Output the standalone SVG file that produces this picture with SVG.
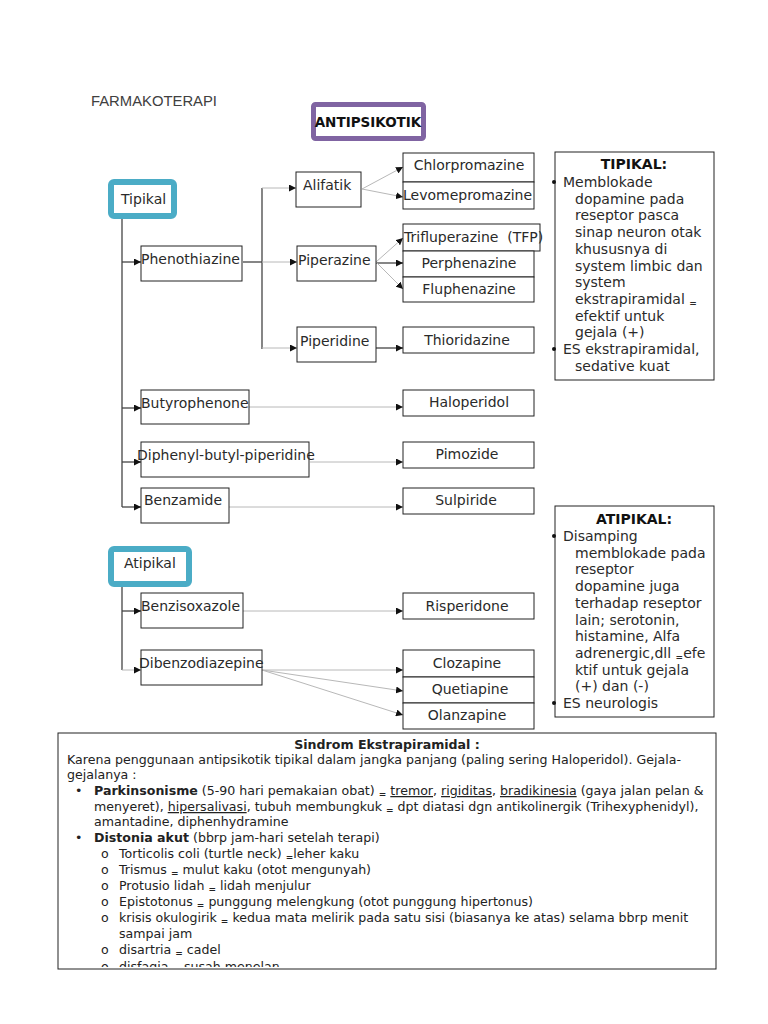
<svg xmlns="http://www.w3.org/2000/svg" width="768" height="1024" viewBox="0 0 768 1024">
<defs>
<marker id="ah" viewBox="0 0 8 8" refX="8" refY="4" markerWidth="7" markerHeight="7" markerUnits="userSpaceOnUse" orient="auto">
<path d="M0,0 L8,4 L0,8 z" fill="#111"/>
</marker>
<clipPath id="clipBottom"><rect x="58" y="733" width="658" height="234"/></clipPath>
</defs>
<style>
.t{font-family:"DejaVu Sans",sans-serif;font-size:14px;fill:#2a2a2a}
.tb{font-family:"DejaVu Sans",sans-serif;font-size:14px;font-weight:bold;fill:#111}
.c{text-anchor:middle}
.box{fill:#fff;stroke:#222;stroke-width:1}
.cat{fill:#fff;stroke:#4bacc6;stroke-width:6}
.dark{fill:none;stroke:#444;stroke-width:1.3}
.light{fill:none;stroke:#b8b8b8;stroke-width:1}
.arr{marker-end:url(#ah)}
.s{font-family:"DejaVu Sans",sans-serif;font-size:12.6px;fill:#222}
.sb{font-weight:bold}
.u{text-decoration:underline}
.eq{font-size:9px;font-weight:bold}
</style>
<rect width="768" height="1024" fill="#fff"/>
<text x="91" y="106" style="font-family:'Liberation Sans',Arial,sans-serif;font-size:14px;fill:#404040" textLength="126" lengthAdjust="spacingAndGlyphs">FARMAKOTERAPI</text>

<g id="connectors">
<path class="dark" d="M122,218 V507"/>
<path class="dark arr" d="M122,262 H141"/>
<path class="dark arr" d="M122,408 H141"/>
<path class="dark arr" d="M122,462 H141"/>
<path class="dark arr" d="M122,507 H141"/>
<path class="dark" d="M243,262 H262"/>
<path class="dark" d="M262,188 V349"/>
<path class="light arr" d="M262,188 H296"/>
<path class="light arr" d="M262,262 H297"/>
<path class="light arr" d="M262,348 H297"/>
<path class="light arr" d="M362,189 L403,167"/>
<path class="light arr" d="M362,189 L403,197"/>
<path class="light arr" d="M376,262 L403,238"/>
<path class="dark arr" d="M376,263 H403"/>
<path class="light arr" d="M376,262 L403,289"/>
<path class="dark arr" d="M376,348 H403"/>
<path class="light arr" d="M249,407 H403"/>
<path class="light arr" d="M310,462 H403"/>
<path class="light arr" d="M229,507 H403"/>
<path class="dark" d="M122,586 V670"/>
<path class="dark arr" d="M122,611 H141"/>
<path class="light arr" d="M122,670 H141"/>
<path class="light arr" d="M243,611 H403"/>
<path class="light arr" d="M262,670 H403"/>
<path class="light arr" d="M262,670 L403,691"/>
<path class="light arr" d="M262,670 L403,715"/>
</g>

<g id="antipsikotik">
<rect x="313.5" y="104.5" width="110" height="34" rx="2" fill="#fff" stroke="#8064a2" stroke-width="5"/>
<text class="tb" x="368" y="127" text-anchor="middle" style="font-size:13.5px">ANTIPSIKOTIK</text>
</g>

<g id="tipikal">
<rect class="cat" x="111" y="182" width="63" height="34" rx="3"/>
<text class="t" x="121" y="204">Tipikal</text>
</g>

<g id="phenothiazine"><rect class="box" x="141" y="246" width="101" height="35"/><text class="t" x="141" y="264">Phenothiazine</text></g>
<g id="alifatik"><rect class="box" x="296" y="172" width="65" height="35"/><text class="t" x="303" y="190">Alifatik</text></g>
<g id="piperazine"><rect class="box" x="297" y="246" width="79" height="35"/><text class="t" x="298" y="265">Piperazine</text></g>
<g id="piperidine"><rect class="box" x="297" y="327" width="79" height="35"/><text class="t" x="300" y="346">Piperidine</text></g>

<g id="chlorpromazine"><rect class="box" x="403" y="153" width="131" height="29"/><text class="t c" x="469" y="170">Chlorpromazine</text></g>
<g id="levomepromazine"><rect class="box" x="403" y="182" width="131" height="27"/><text class="t" x="403" y="200">Levomepromazine</text></g>
<g id="trifluperazine"><rect class="box" x="403" y="224" width="137" height="27"/><text class="t" x="404" y="242" xml:space="preserve">Trifluperazine  (TFP)</text></g>
<g id="perphenazine"><rect class="box" x="403" y="251" width="131" height="26"/><text class="t c" x="469" y="268">Perphenazine</text></g>
<g id="fluphenazine"><rect class="box" x="403" y="277" width="131" height="25"/><text class="t c" x="469" y="294">Fluphenazine</text></g>
<g id="thioridazine"><rect class="box" x="403" y="327" width="131" height="26"/><text class="t c" x="467" y="345">Thioridazine</text></g>

<g id="butyrophenone"><rect class="box" x="141" y="390" width="108" height="34"/><text class="t" x="141" y="408">Butyrophenone</text></g>
<g id="diphenyl"><rect class="box" x="141" y="442" width="168" height="35"/><text class="t" x="137" y="460">Diphenyl-butyl-piperidine</text></g>
<g id="benzamide"><rect class="box" x="141" y="488" width="88" height="35"/><text class="t" x="144" y="505">Benzamide</text></g>
<g id="haloperidol"><rect class="box" x="403" y="390" width="131" height="26"/><text class="t c" x="469" y="407">Haloperidol</text></g>
<g id="pimozide"><rect class="box" x="403" y="442" width="131" height="26"/><text class="t c" x="467" y="459">Pimozide</text></g>
<g id="sulpiride"><rect class="box" x="403" y="488" width="131" height="26"/><text class="t c" x="466" y="505">Sulpiride</text></g>

<g id="atipikal">
<rect class="cat" x="111" y="549" width="78" height="35" rx="3"/>
<text class="t" x="124" y="568">Atipikal</text>
</g>
<g id="benzisoxazole"><rect class="box" x="141" y="593" width="102" height="35"/><text class="t" x="141" y="611">Benzisoxazole</text></g>
<g id="dibenzodiazepine"><rect class="box" x="141" y="650" width="121" height="35"/><text class="t" x="139" y="668">Dibenzodiazepine</text></g>
<g id="risperidone"><rect class="box" x="403" y="593" width="131" height="26"/><text class="t c" x="467" y="611">Risperidone</text></g>
<g id="clozapine"><rect class="box" x="403" y="650" width="131" height="27"/><text class="t c" x="467" y="668">Clozapine</text></g>
<g id="quetiapine"><rect class="box" x="403" y="677" width="131" height="26"/><text class="t c" x="470" y="694">Quetiapine</text></g>
<g id="olanzapine"><rect class="box" x="403" y="703" width="131" height="26"/><text class="t c" x="467" y="720">Olanzapine</text></g>

<g id="tipikal-note">
<rect class="box" x="555" y="152" width="159" height="228"/>
<text class="tb c" x="634" y="169">TIPIKAL:</text>
<circle cx="554" cy="182" r="2" fill="#111"/>
<circle cx="554" cy="349" r="2" fill="#111"/>
<text class="t" x="563" y="187">Memblokade</text>
<text class="t" x="575" y="203.7">dopamine pada</text>
<text class="t" x="575" y="220.4">reseptor pasca</text>
<text class="t" x="575" y="237.1">sinap neuron otak</text>
<text class="t" x="575" y="253.8">khususnya di</text>
<text class="t" x="575" y="270.5">system limbic dan</text>
<text class="t" x="575" y="287.2">system</text>
<text class="t" x="575" y="303.9">ekstrapiramidal <tspan class="eq" dy="2">=</tspan></text>
<text class="t" x="575" y="320.6">efektif untuk</text>
<text class="t" x="575" y="337.3">gejala (+)</text>
<text class="t" x="563" y="354">ES ekstrapiramidal,</text>
<text class="t" x="575" y="370.7">sedative kuat</text>
</g>

<g id="atipikal-note">
<rect class="box" x="555" y="506" width="159" height="211"/>
<text class="tb c" x="634" y="524">ATIPIKAL:</text>
<circle cx="554" cy="536" r="2" fill="#111"/>
<circle cx="554" cy="703" r="2" fill="#111"/>
<text class="t" x="563" y="541">Disamping</text>
<text class="t" x="575" y="557.7">memblokade pada</text>
<text class="t" x="575" y="574.4">reseptor</text>
<text class="t" x="575" y="591.1">dopamine juga</text>
<text class="t" x="575" y="607.8">terhadap reseptor</text>
<text class="t" x="575" y="624.5">lain; serotonin,</text>
<text class="t" x="575" y="641.2">histamine, Alfa</text>
<text class="t" x="575" y="657.9">adrenergic,dll <tspan class="eq" dy="2">=</tspan><tspan dy="-2">efe</tspan></text>
<text class="t" x="575" y="674.6">ktif untuk gejala</text>
<text class="t" x="575" y="691.3">(+) dan (-)</text>
<text class="t" x="563" y="708">ES neurologis</text>
</g>

<g id="sindrom">
<rect class="box" x="58" y="733" width="658" height="236"/>
<g clip-path="url(#clipBottom)">
<text class="s sb" x="387" y="749" text-anchor="middle">Sindrom Ekstrapiramidal :</text>
<text class="s" x="67" y="764">Karena penggunaan antipsikotik tipikal dalam jangka panjang (paling sering Haloperidol). Gejala-</text>
<text class="s" x="67" y="779">gejalanya :</text>
<text class="s" x="75" y="795">•</text>
<text class="s" x="94" y="795"><tspan class="sb">Parkinsonisme</tspan> (5-90 hari pemakaian obat) <tspan class="eq" dy="2">=</tspan><tspan dy="-2"> </tspan><tspan class="u">tremor</tspan>, <tspan class="u">rigiditas</tspan>, <tspan class="u">bradikinesia</tspan> (gaya jalan pelan &amp;</text>
<text class="s" x="94" y="811">menyeret), <tspan class="u">hipersalivasi</tspan>, tubuh membungkuk <tspan class="eq" dy="2">=</tspan><tspan dy="-2"> dpt diatasi dgn antikolinergik (Trihexyphenidyl),</tspan></text>
<text class="s" x="94" y="826">amantadine, diphenhydramine</text>
<text class="s" x="75" y="842">•</text>
<text class="s" x="94" y="842"><tspan class="sb">Distonia akut</tspan> (bbrp jam-hari setelah terapi)</text>
<text class="s" x="101" y="858">o</text><text class="s" x="119" y="858">Torticolis coli (turtle neck) <tspan class="eq" dy="2">=</tspan><tspan dy="-2">leher kaku</tspan></text>
<text class="s" x="101" y="874">o</text><text class="s" x="119" y="874">Trismus <tspan class="eq" dy="2">=</tspan><tspan dy="-2"> mulut kaku (otot mengunyah)</tspan></text>
<text class="s" x="101" y="890">o</text><text class="s" x="119" y="890">Protusio lidah <tspan class="eq" dy="2">=</tspan><tspan dy="-2"> lidah menjulur</tspan></text>
<text class="s" x="101" y="906">o</text><text class="s" x="119" y="906">Epistotonus <tspan class="eq" dy="2">=</tspan><tspan dy="-2"> punggung melengkung (otot punggung hipertonus)</tspan></text>
<text class="s" x="101" y="922">o</text><text class="s" x="119" y="922">krisis okulogirik <tspan class="eq" dy="2">=</tspan><tspan dy="-2"> kedua mata melirik pada satu sisi (biasanya ke atas) selama bbrp menit</tspan></text>
<text class="s" x="119" y="938">sampai jam</text>
<text class="s" x="101" y="954">o</text><text class="s" x="119" y="954">disartria <tspan class="eq" dy="2">=</tspan><tspan dy="-2"> cadel</tspan></text>
<text class="s" x="101" y="971">o</text><text class="s" x="119" y="971">disfagia <tspan class="eq" dy="2">=</tspan><tspan dy="-2"> susah menelan</tspan></text>
</g>
</g>
</svg>
